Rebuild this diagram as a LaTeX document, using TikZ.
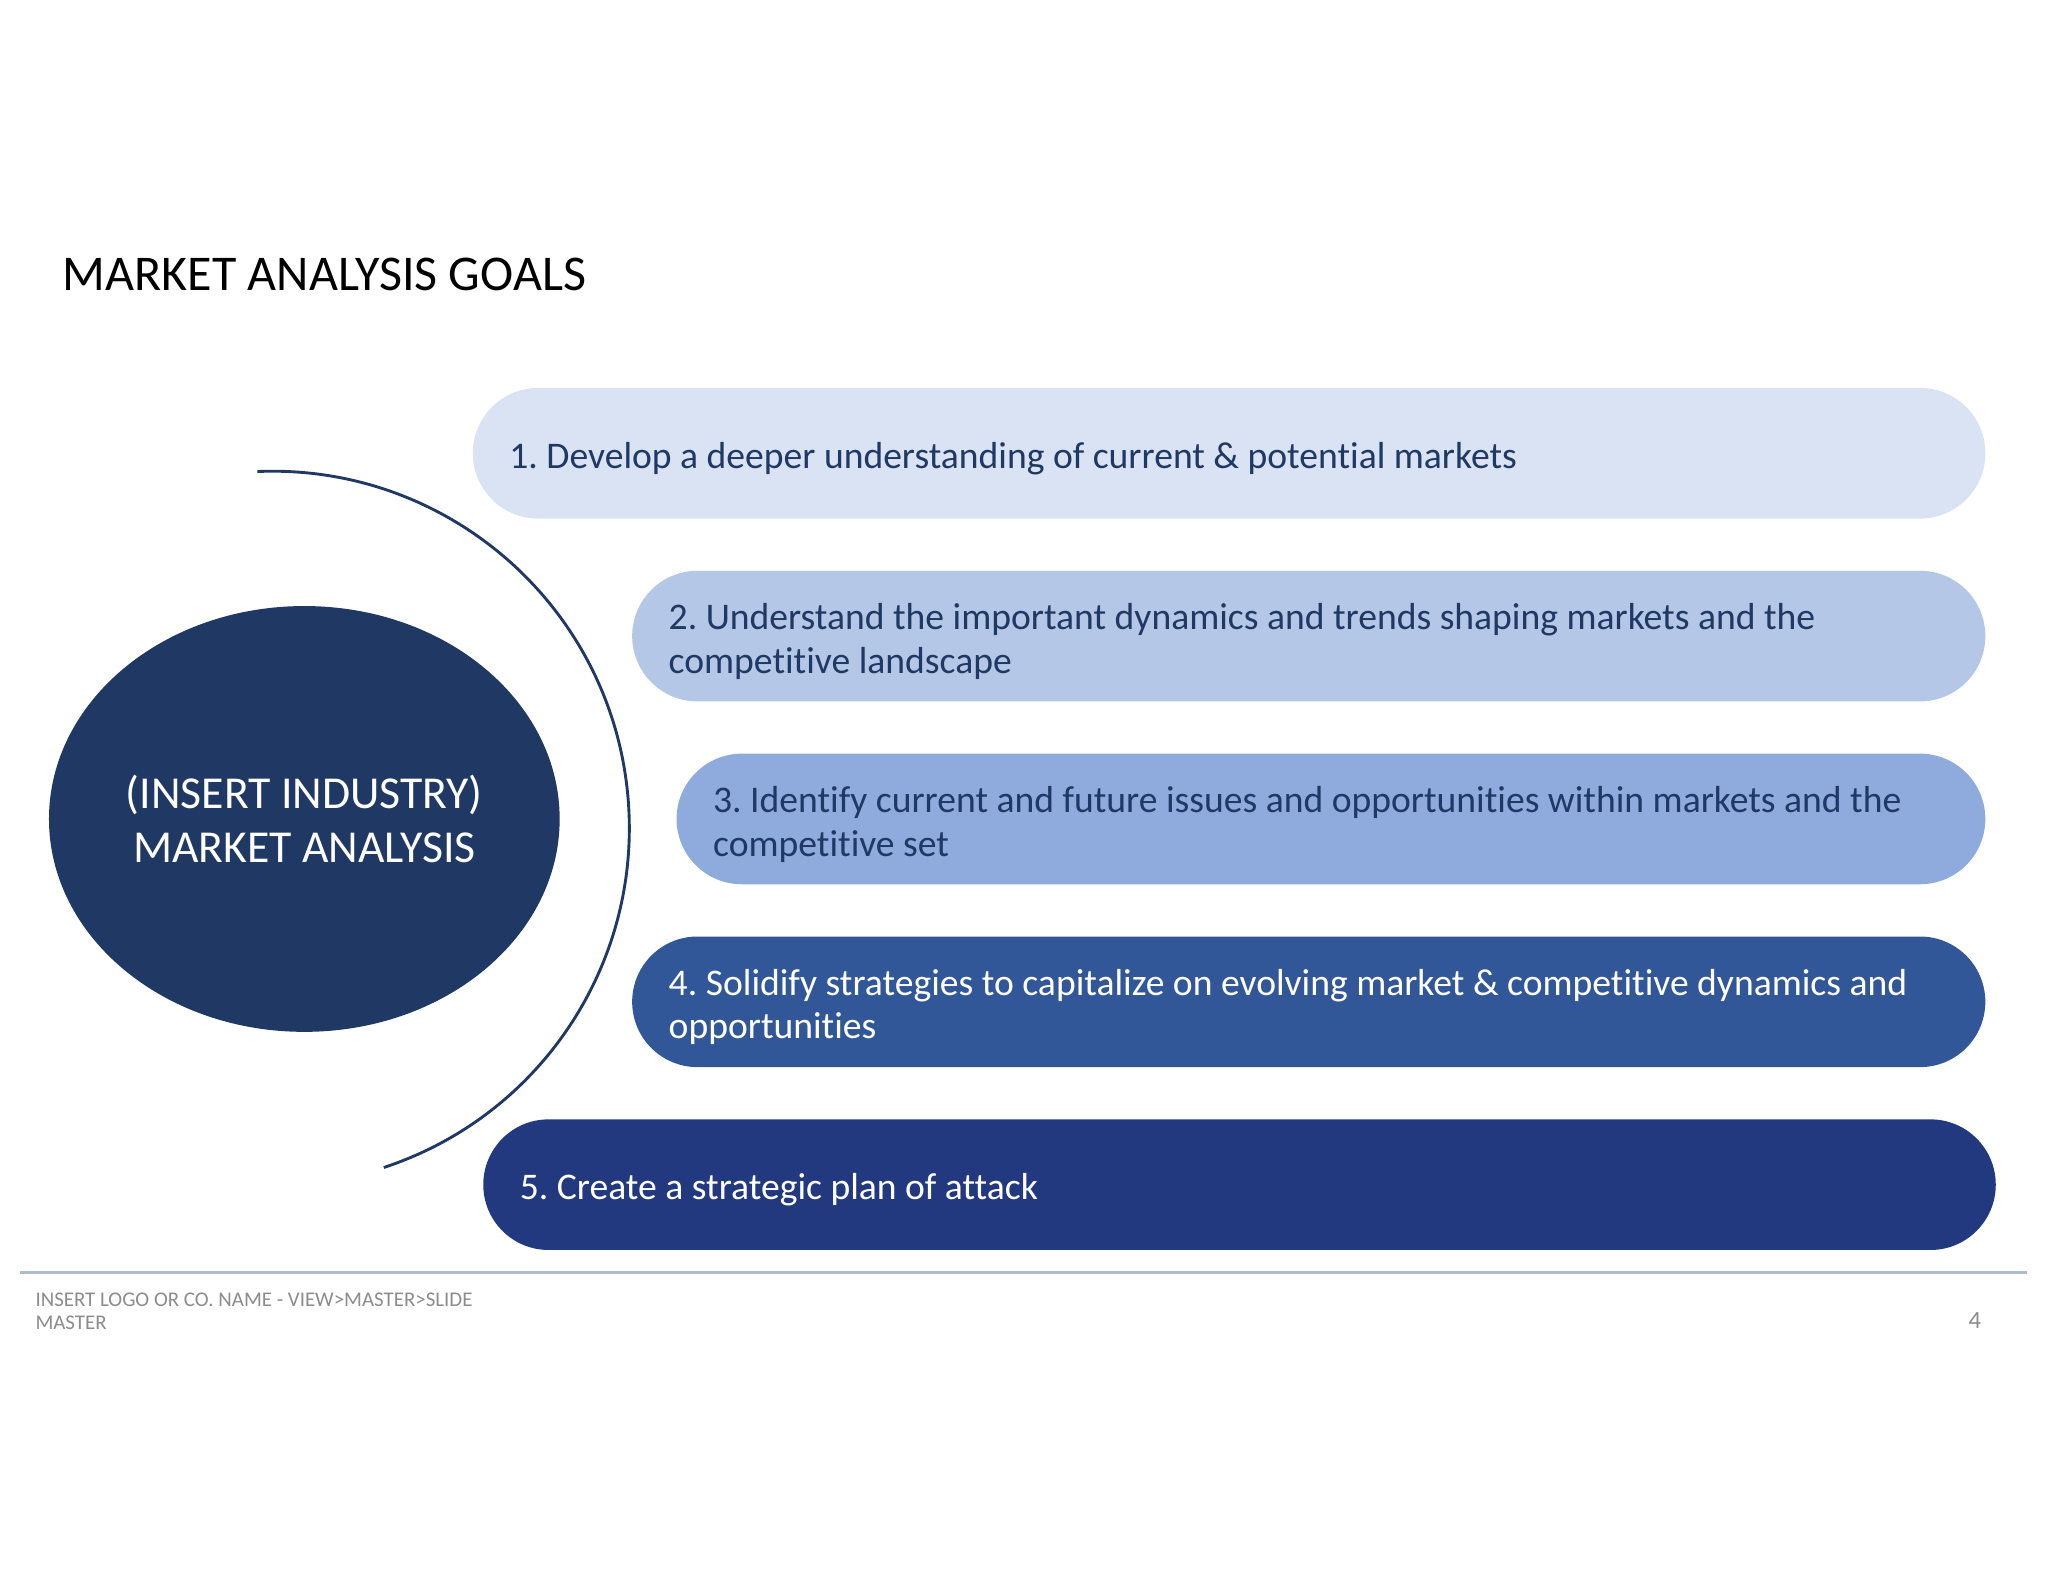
\documentclass[tikz,border=0pt]{standalone}
\usepackage{fontspec}
\setmainfont{Carlito}[Ligatures=NoCommon]
\usetikzlibrary{shapes.geometric}
\definecolor{navy}{RGB}{32,56,100}
\definecolor{txtdark}{RGB}{31,56,100}
\definecolor{barA}{RGB}{218,227,243}
\definecolor{barB}{RGB}{180,199,231}
\definecolor{barC}{RGB}{143,170,220}
\definecolor{barD}{RGB}{50,87,152}
\definecolor{barE}{RGB}{34,57,128}
\definecolor{rulec}{RGB}{172,187,207}
\definecolor{footc}{RGB}{140,140,140}
\begin{document}
\frenchspacing
\begin{tikzpicture}[x=1pt,y=1pt,
  bar/.style={rectangle, rounded corners=50pt, minimum height=100pt, inner sep=0pt, draw=none},
  bartext/.style={anchor=west, inner sep=0pt, align=left, font=\fontsize{28.8}{33.5}\selectfont},
  arcline/.style={draw=navy, line width=2.2pt},
  foottext/.style={inner sep=0pt, text=footc, font=\fontsize{16}{18}\selectfont, align=left}]
\path[use as bounding box, fill=white] (0,0) rectangle (1568,-1211);

% title
\node[anchor=west, inner sep=0pt, font=\fontsize{38.3}{44}\selectfont] (title) at (48,-210) {MARKET ANALYSIS GOALS};

% bars
\node[bar, fill=barA, minimum width=1158pt] (b1) at (941,-347) {};
\node[bar, fill=barB, minimum width=1036pt] (b2) at (1002,-487) {};
\node[bar, fill=barC, minimum width=1002pt] (b3) at (1019,-627) {};
\node[bar, fill=barD, minimum width=1036pt] (b4) at (1002,-767) {};
\node[bar, fill=barE, minimum width=1158pt] (b5) at (949,-907) {};

\node[bartext, text=txtdark] (t1) at ([xshift=28pt,yshift=-4pt]b1.west) {1. Develop a deeper understanding of current \& potential markets};
\node[bartext, text=txtdark] (t2) at ([xshift=28pt,yshift=-4pt]b2.west) {2. Understand the important dynamics and trends shaping markets and the\\competitive landscape};
\node[bartext, text=txtdark] (t3) at ([xshift=28pt,yshift=-4pt]b3.west) {3. Identify current and future issues and opportunities within markets and the\\competitive set};
\node[bartext, text=white] (t4) at ([xshift=28pt,yshift=-4pt]b4.west) {4. Solidify strategies to capitalize on evolving market \& competitive dynamics and\\opportunities};
\node[bartext, text=white] (t5) at ([xshift=28pt,yshift=-4pt]b5.west) {5. Create a strategic plan of attack};

% central ellipse
\node[ellipse, fill=navy, minimum width=391pt, minimum height=326pt, inner sep=0pt,
      text=white, align=center, font=\fontsize{35}{42}\selectfont] (core) at (233,-627)
      {(INSERT INDUSTRY)\\MARKET ANALYSIS};

% arc
\coordinate (arcS) at (197,-361);
\draw[arcline] (arcS) arc[start angle=92.4, end angle=-71.8, radius=273.4] coordinate (arcE);

% footer
\coordinate (ruleL) at (15,-974);
\coordinate (ruleR) at (1552,-974);
\draw[rulec, line width=2.5pt] (ruleL) -- (ruleR);
\node[foottext, anchor=west] (foot) at (27,-1004) {INSERT LOGO OR CO. NAME - VIEW>MASTER>SLIDE\\MASTER};
\node[foottext, font=\fontsize{19}{22}\selectfont] (pnum) at (1512,-1011) {4};
\end{tikzpicture}
\end{document}
